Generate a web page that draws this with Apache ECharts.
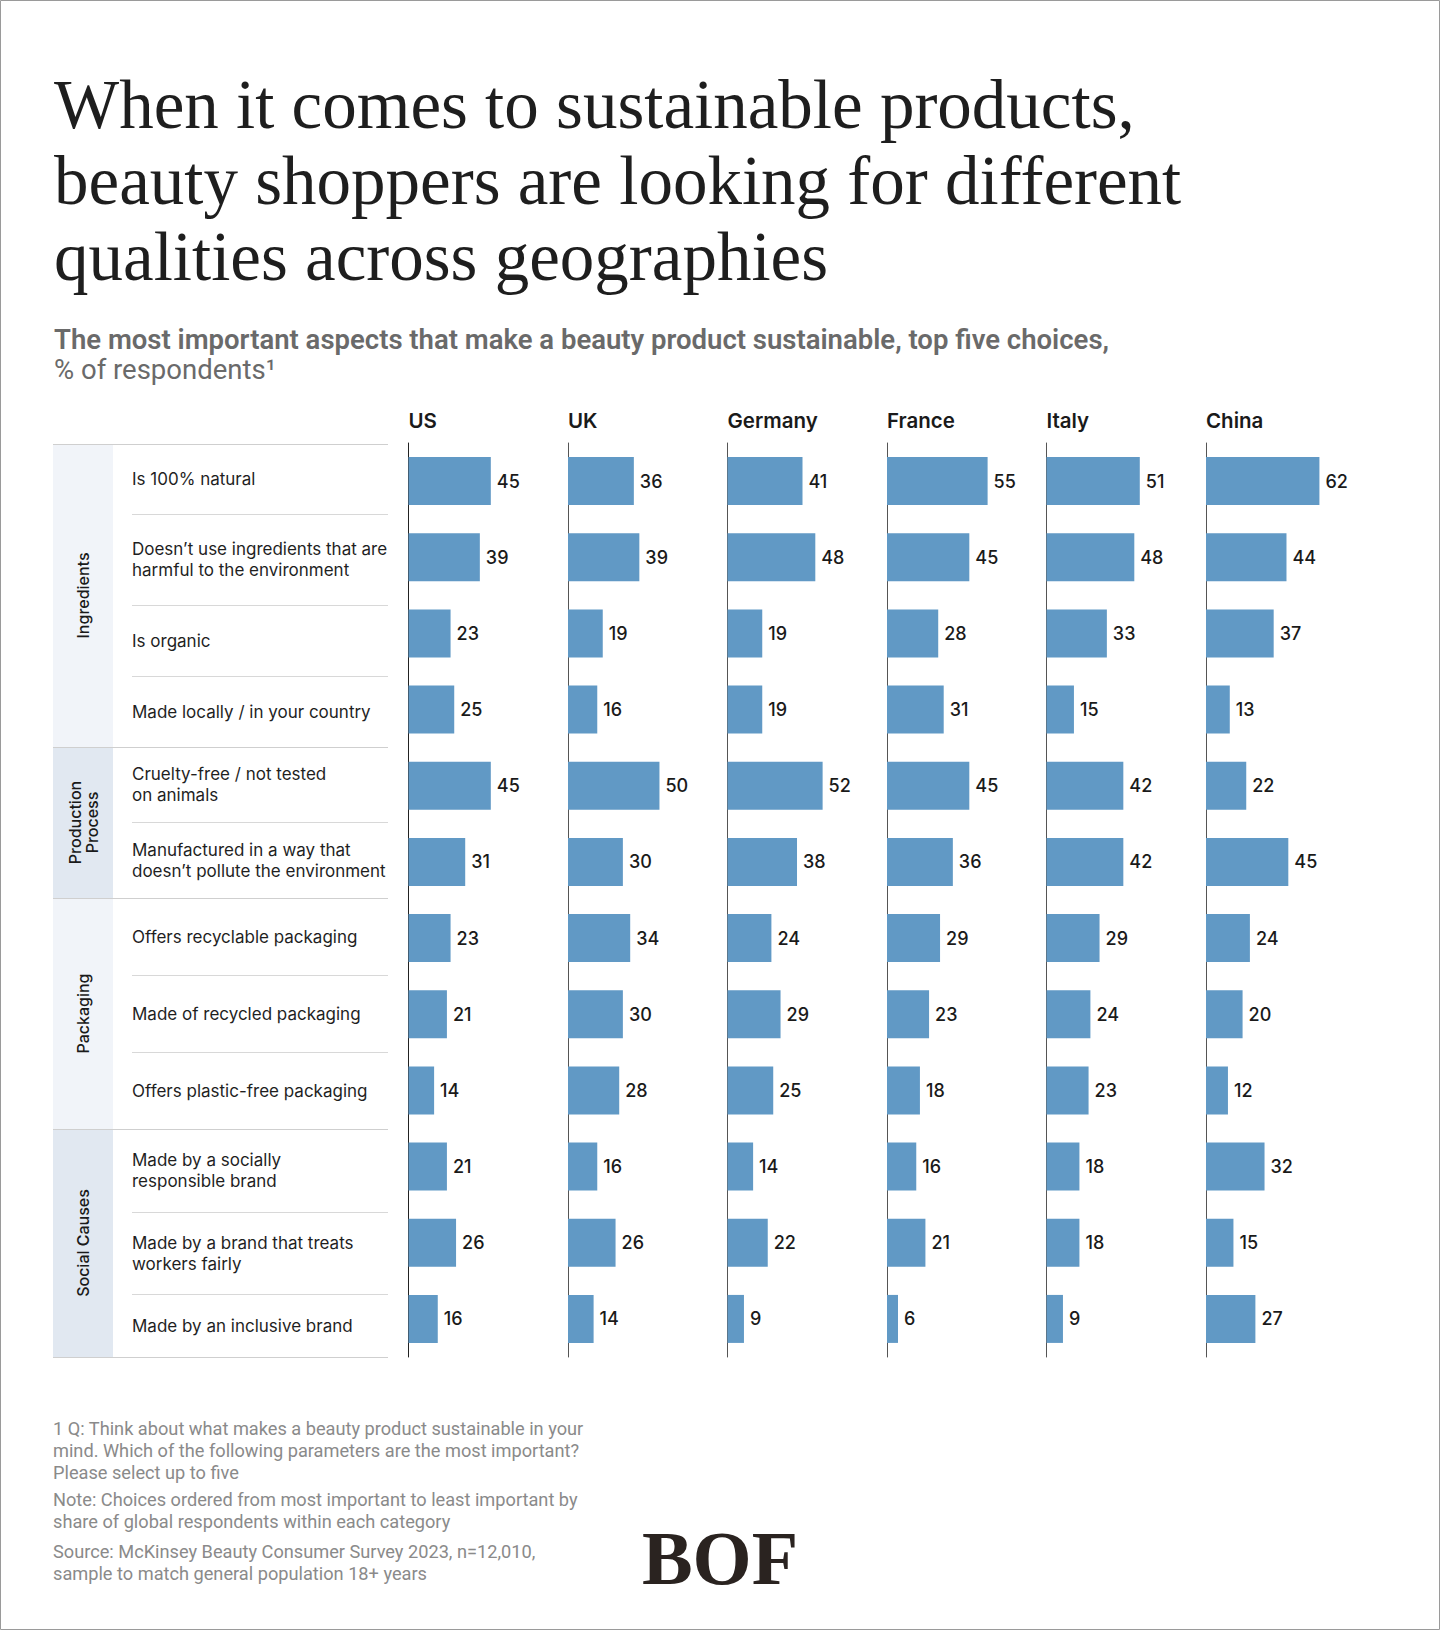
<!DOCTYPE html>
<html>
<head>
<meta charset="utf-8">
<script src="https://cdn.jsdelivr.net/npm/echarts@6/dist/echarts.min.js"></script>
<style>
  html, body { margin: 0; padding: 0; background: #fff; }
  #chart { width: 1440px; height: 1630px; }
</style>
</head>
<body>
<div id="chart"></div>
<script>
// ---------- DATA ----------
const categories = [
  "Is 100% natural",
  "Doesn’t use ingredients that are\nharmful to the environment",
  "Is organic",
  "Made locally / in your country",
  "Cruelty-free / not tested\non animals",
  "Manufactured in a way that\ndoesn’t pollute the environment",
  "Offers recyclable packaging",
  "Made of recycled packaging",
  "Offers plastic-free packaging",
  "Made by a socially\nresponsible brand",
  "Made by a brand that treats\nworkers fairly",
  "Made by an inclusive brand"
];
const groupNames = ["Ingredients", "Production\nProcess", "Packaging", "Social Causes"];
const groupSizes = [4, 2, 3, 3];
const countries = ["US", "UK", "Germany", "France", "Italy", "China"];
const usValues      = [45, 39, 23, 25, 45, 31, 23, 21, 14, 21, 26, 16];
const ukValues      = [36, 39, 19, 16, 50, 30, 34, 30, 28, 16, 26, 14];
const germanyValues = [41, 48, 19, 19, 52, 38, 24, 29, 25, 14, 22, 9];
const franceValues  = [55, 45, 28, 31, 45, 36, 29, 23, 18, 16, 21, 6];
const italyValues   = [51, 48, 33, 15, 42, 42, 29, 24, 23, 18, 18, 9];
const chinaValues   = [62, 44, 37, 13, 22, 45, 24, 20, 12, 32, 15, 27];
const seriesValues = [usValues, ukValues, germanyValues, franceValues, italyValues, chinaValues];

const titleText = "When it comes to sustainable products,\nbeauty shoppers are looking for different\nqualities across geographies";
const subtitleLine1 = "The most important aspects that make a beauty product sustainable, top five choices,";
const subtitleLine2 = "% of respondents¹";
const footnote1 = "1 Q: Think about what makes a beauty product sustainable in your\nmind. Which of the following parameters are the most important?\nPlease select up to five";
const footnote2 = "Note: Choices ordered from most important to least important by\nshare of global respondents within each category";
const footnote3 = "Source: McKinsey Beauty Consumer Survey 2023, n=12,010,\nsample to match general population 18+ years";

// ---------- LAYOUT ----------
const SANS = "Inter, Roboto, 'Noto Sans', sans-serif";
const NARROW = "'Liberation Sans Narrow', Roboto, 'Noto Sans', sans-serif";
const SERIF = "'Liberation Serif', 'DejaVu Serif', serif";
const firstAxisX = 408.5, panelStep = 159.5;
const gridTop = 443, gridHeight = 914, gridWidth = 150, axisMax = 82;
const rowEdges = [444, 514, 605, 676, 747, 822, 898, 975, 1052, 1129, 1212, 1294, 1357];
const tableLeft = 53, groupColRight = 113, labelLeft = 132, tableRight = 388;
const barColor = "#6199c5";

const grids = [], xAxes = [], yAxes = [], series = [];
countries.forEach((c, i) => {
  const left = firstAxisX + i * panelStep;
  grids.push({ left: left, top: gridTop, width: gridWidth, height: gridHeight, containLabel: false });
  xAxes.push({ type: "value", gridIndex: i, min: 0, max: axisMax, show: false, splitLine: { show: false } });
  yAxes.push({
    type: "category", gridIndex: i, data: categories, inverse: true,
    axisLine: { show: true, lineStyle: { color: i === 0 ? "#222" : "#555", width: 1 } },
    axisTick: { show: false }, axisLabel: { show: false }, splitLine: { show: false }
  });
  series.push({
    type: "bar", name: c, xAxisIndex: i, yAxisIndex: i, data: seriesValues[i],
    barWidth: 48, silent: true,
    itemStyle: { color: barColor },
    label: { show: true, position: "right", distance: 6, fontSize: 18, fontWeight: 500, fontFamily: SANS, color: "#1a1a1a" }
  });
});

const graphics = [];
// border
graphics.push({ type: "rect", shape: { x: 0.5, y: 0.5, width: 1439, height: 1629 }, style: { fill: "none", stroke: "#9a9a9a", lineWidth: 1 }, silent: true });
// title
graphics.push({ type: "text", x: 54, y: 181, style: { text: titleText, fontFamily: SERIF, fontSize: 69, lineHeight: 76, fill: "#1e1e1e", align: "left", verticalAlign: "middle" } });
graphics.push({ type: "text", x: 54, y: 339, style: { text: subtitleLine1, fontFamily: NARROW, fontSize: 27.5, fontWeight: 600, fill: "#6a6a6a", align: "left", verticalAlign: "middle" } });
graphics.push({ type: "text", x: 54, y: 369, style: { text: subtitleLine2, fontFamily: NARROW, fontSize: 27.5, fontWeight: 400, fill: "#6a6a6a", align: "left", verticalAlign: "middle" } });
// country headers
countries.forEach((c, i) => {
  graphics.push({ type: "text", x: firstAxisX + i * panelStep, y: 420, style: { text: c, fontFamily: SANS, fontSize: 20.5, fontWeight: 600, fill: "#1a1a1a", align: "left", verticalAlign: "middle" } });
});
// group backgrounds + labels
let gi = 0;
const groupBoundaryIdx = [0];
groupNames.forEach((g, k) => {
  const y0 = rowEdges[gi], y1 = rowEdges[gi + groupSizes[k]];
  graphics.push({ type: "rect", shape: { x: tableLeft, y: y0, width: groupColRight - tableLeft, height: y1 - y0 }, style: { fill: k % 2 === 0 ? "#f1f4f9" : "#e1e8f1" }, silent: true });
  graphics.push({ type: "text", x: (tableLeft + groupColRight) / 2, y: (y0 + y1) / 2, rotation: Math.PI / 2, style: { text: g, fontFamily: SANS, fontSize: 16, fontWeight: 500, lineHeight: 17, fill: "#1a1a1a", align: "center", verticalAlign: "middle" } });
  gi += groupSizes[k];
  groupBoundaryIdx.push(gi);
});
// row separators
rowEdges.forEach((y, i) => {
  const isGroup = groupBoundaryIdx.indexOf(i) >= 0;
  graphics.push({ type: "line", shape: { x1: isGroup ? tableLeft : labelLeft, y1: y + 0.5, x2: tableRight, y2: y + 0.5 }, style: { stroke: isGroup ? "#cfcfcf" : "#d8d8d8", lineWidth: 1 }, silent: true });
});
// row labels
categories.forEach((c, i) => {
  graphics.push({ type: "text", x: labelLeft, y: (rowEdges[i] + rowEdges[i + 1]) / 2, style: { text: c, fontFamily: SANS, fontSize: 17, lineHeight: 21, fill: "#1f1f1f", align: "left", verticalAlign: "middle" } });
});
// footnotes
graphics.push({ type: "text", x: 53, y: 1450, style: { text: footnote1, fontFamily: NARROW, fontSize: 18.2, lineHeight: 22, fill: "#8a8a8a", align: "left", verticalAlign: "middle" } });
graphics.push({ type: "text", x: 53, y: 1510, style: { text: footnote2, fontFamily: NARROW, fontSize: 18.2, lineHeight: 22, fill: "#8a8a8a", align: "left", verticalAlign: "middle" } });
graphics.push({ type: "text", x: 53, y: 1562, style: { text: footnote3, fontFamily: NARROW, fontSize: 18.2, lineHeight: 22, fill: "#8a8a8a", align: "left", verticalAlign: "middle" } });
// logo
graphics.push({ type: "text", x: 720, y: 1558, style: { text: "BOF", fontFamily: SERIF, fontSize: 76, fontWeight: "bold", fill: "#2a2320", align: "center", verticalAlign: "middle" } });

const chart = echarts.init(document.getElementById("chart"), null, { renderer: "svg", width: 1440, height: 1630 });
chart.setOption({
  backgroundColor: "#ffffff",
  animation: false,
  grid: grids,
  xAxis: xAxes,
  yAxis: yAxes,
  series: series,
  graphic: graphics
});
</script>
</body>
</html>
